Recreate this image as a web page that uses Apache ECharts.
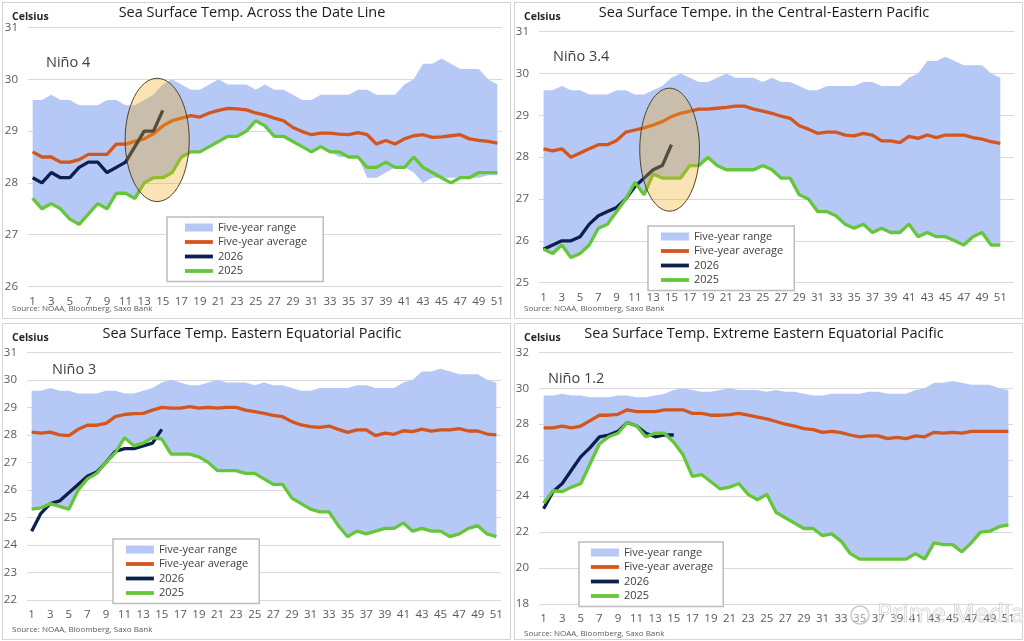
<!DOCTYPE html>
<html><head><meta charset="utf-8">
<script src="https://cdn.jsdelivr.net/npm/echarts@6/dist/echarts.min.js"></script>
<style>
html,body{margin:0;padding:0;background:#fff;width:1024px;height:641px;overflow:hidden}
.p{position:absolute;box-sizing:border-box;border:1px solid #d4d4d4;background:#fff}
</style></head><body>
<div id="c1" class="p" style="left:2px;top:2px;width:509px;height:317px"></div>
<div id="c2" class="p" style="left:514px;top:2px;width:509px;height:317px"></div>
<div id="c3" class="p" style="left:2px;top:323px;width:509px;height:317px"></div>
<div id="c4" class="p" style="left:514px;top:323px;width:509px;height:317px"></div>
<script>
// ---------- DATA ----------
const weeks51 = ['1','2','3','4','5','6','7','8','9','10','11','12','13','14','15','16','17','18','19','20','21','22','23','24','25','26','27','28','29','30','31','32','33','34','35','36','37','38','39','40','41','42','43','44','45','46','47','48','49','50','51'];
const weeks52 = ['1','2','3','4','5','6','7','8','9','10','11','12','13','14','15','16','17','18','19','20','21','22','23','24','25','26','27','28','29','30','31','32','33','34','35','36','37','38','39','40','41','42','43','44','45','46','47','48','49','50','51','52'];

const legendNames = ['Five-year range','Five-year average','2026','2025'];

// upper edge of the five-year range (same shape in all four panels)
const rangeHigh = [29.6,29.6,29.7,29.6,29.6,29.5,29.5,29.5,29.6,29.6,29.5,29.5,29.6,29.7,29.9,30.0,29.9,29.8,29.8,29.9,30.0,29.9,29.9,29.9,29.8,29.9,29.8,29.8,29.7,29.6,29.6,29.7,29.7,29.7,29.7,29.8,29.8,29.7,29.7,29.7,29.9,30.0,30.3,30.3,30.4,30.3,30.2,30.2,30.2,30.0,29.9];

// Niño 4
const nino4Low = [27.7,27.5,27.6,27.5,27.3,27.2,27.4,27.6,27.5,27.8,27.8,27.7,28.0,28.1,28.1,28.2,28.5,28.6,28.6,28.7,28.8,28.9,28.9,29.0,29.2,29.1,28.9,28.9,28.8,28.7,28.6,28.7,28.6,28.5,28.5,28.5,28.1,28.1,28.2,28.3,28.3,28.2,28.0,28.1,28.1,28.1,28.1,28.1,28.1,28.15,28.15];
const nino4Avg = [28.6,28.5,28.5,28.4,28.4,28.45,28.55,28.55,28.55,28.75,28.75,28.8,28.85,28.95,29.1,29.2,29.25,29.3,29.27,29.35,29.4,29.44,29.43,29.41,29.35,29.31,29.25,29.2,29.07,28.99,28.93,28.96,28.96,28.94,28.93,28.97,28.93,28.75,28.82,28.75,28.85,28.91,28.93,28.88,28.89,28.91,28.93,28.85,28.82,28.8,28.77];
const nino4Y2026 = [28.1,28.0,28.2,28.1,28.1,28.3,28.4,28.4,28.2,28.3,28.4,28.7,29.0,29.0,29.4];
const nino4Y2025 = [27.7,27.5,27.6,27.5,27.3,27.2,27.4,27.6,27.5,27.8,27.8,27.7,28.0,28.1,28.1,28.2,28.5,28.6,28.6,28.7,28.8,28.9,28.9,29.0,29.2,29.1,28.9,28.9,28.8,28.7,28.6,28.7,28.6,28.6,28.5,28.5,28.3,28.3,28.4,28.3,28.3,28.5,28.3,28.2,28.1,28.0,28.1,28.1,28.2,28.2,28.2];

// Niño 3.4
const nino34Avg = [28.2,28.15,28.2,28.0,28.1,28.2,28.3,28.3,28.4,28.6,28.65,28.7,28.77,28.85,28.97,29.05,29.1,29.15,29.15,29.17,29.19,29.22,29.22,29.15,29.1,29.05,28.98,28.93,28.75,28.67,28.57,28.6,28.6,28.53,28.51,28.57,28.53,28.39,28.39,28.35,28.5,28.45,28.53,28.47,28.53,28.53,28.53,28.47,28.43,28.37,28.33];
const nino34Y2026 = [25.8,25.9,26.0,26.0,26.1,26.4,26.6,26.7,26.8,27.0,27.3,27.5,27.7,27.8,28.3];
const nino34Y2025 = [25.8,25.7,25.9,25.6,25.7,25.9,26.3,26.4,26.7,27.0,27.4,27.1,27.6,27.5,27.5,27.5,27.8,27.8,28.0,27.8,27.7,27.7,27.7,27.7,27.8,27.7,27.5,27.5,27.1,27.0,26.7,26.7,26.6,26.4,26.3,26.4,26.2,26.3,26.2,26.2,26.4,26.1,26.2,26.1,26.1,26.0,25.9,26.1,26.2,25.9,25.9];

// Niño 3
const nino3Avg = [28.1,28.06,28.1,28.0,27.97,28.2,28.35,28.35,28.42,28.66,28.74,28.77,28.78,28.9,29.0,28.97,28.97,29.03,28.97,29.0,28.97,29.0,29.0,28.9,28.84,28.78,28.71,28.66,28.48,28.36,28.3,28.27,28.32,28.2,28.09,28.18,28.18,27.97,28.06,28.02,28.15,28.12,28.21,28.14,28.18,28.18,28.23,28.14,28.14,28.03,28.0];
const nino3Y2026 = [24.5,25.15,25.5,25.6,25.9,26.2,26.5,26.65,27.0,27.4,27.5,27.5,27.6,27.7,28.2];
const nino3Y2025 = [25.3,25.35,25.5,25.4,25.3,26.0,26.4,26.6,27.0,27.35,27.9,27.6,27.7,27.9,27.85,27.3,27.3,27.3,27.2,27.0,26.7,26.7,26.7,26.6,26.6,26.4,26.2,26.2,25.7,25.5,25.3,25.2,25.2,24.7,24.3,24.5,24.4,24.5,24.6,24.6,24.8,24.5,24.6,24.5,24.5,24.3,24.4,24.6,24.7,24.4,24.3];

// Niño 1.2
const nino12Avg = [27.8,27.8,27.9,27.8,27.9,28.2,28.5,28.5,28.55,28.8,28.7,28.7,28.7,28.8,28.8,28.8,28.6,28.6,28.5,28.5,28.53,28.6,28.5,28.4,28.3,28.15,28.0,27.9,27.75,27.7,27.55,27.6,27.53,27.4,27.3,27.35,27.35,27.2,27.27,27.2,27.35,27.3,27.55,27.5,27.55,27.5,27.6,27.6,27.6,27.6,27.6];
const nino12Y2026 = [23.3,24.25,24.7,25.45,26.2,26.7,27.3,27.4,27.6,28.1,27.9,27.5,27.3,27.4,27.4];
const nino12Y2025 = [23.6,24.3,24.25,24.5,24.7,25.8,26.9,27.3,27.5,28.1,27.9,27.3,27.5,27.5,27.0,26.3,25.1,25.2,24.8,24.4,24.5,24.7,24.1,23.8,24.1,23.1,22.8,22.5,22.2,22.2,21.8,21.9,21.5,20.8,20.5,20.5,20.5,20.5,20.5,20.5,20.8,20.5,21.4,21.3,21.3,20.9,21.4,22.0,22.05,22.3,22.4];

// ---------- STYLE / LAYOUT ----------
const FONT = '"Open Sans","Noto Sans",sans-serif';
const BLUE = '#b6c8f5', ORANGE = '#d4561f', NAVY = '#0c1f4e', GREEN = '#66c63a';
const SOURCE = 'Source: NOAA, Bloomberg, Saxo Bank';
const LINE_W = 3.3;

const panels = [
  {id:'c1', title:'Sea Surface Temp. Across the Date Line', region:'Niño 4',
   cats:weeks51, high:rangeHigh, low:nino4Low, avg:nino4Avg, a:nino4Y2026, b:nino4Y2025,
   yMin:26, yMax:31, yStep:1,
   grid:{left:25, top:24.5, width:474, height:259},
   legend:{left:164, top:214, padding:[4,16,4,16]},
   regionAt:[43,60], sourceY:306,
   oval:{week:14.4, temp:28.83, rxWeeks:3.45, ryDeg:1.19}},
  {id:'c2', title:'Sea Surface Tempe. in the Central-Eastern Pacific', region:'Niño 3.4',
   cats:weeks52, high:rangeHigh, low:nino34Y2025, avg:nino34Avg, a:nino34Y2026, b:nino34Y2025,
   yMin:25, yMax:31, yStep:1,
   grid:{left:24, top:28.7, width:475, height:251},
   legend:{left:133, top:223, padding:[4,11,4,11]},
   regionAt:[38,54], sourceY:306,
   oval:{week:14.8, temp:28.18, rxWeeks:3.27, ryDeg:1.47}},
  {id:'c3', title:'Sea Surface Temp. Eastern Equatorial Pacific', region:'Niño 3',
   cats:weeks51, high:rangeHigh, low:nino3Y2025, avg:nino3Avg, a:nino3Y2026, b:nino3Y2025,
   yMin:22, yMax:31, yStep:1,
   grid:{left:24, top:28.3, width:474, height:247.7},
   legend:{left:110, top:215, padding:[4,11,4,11]},
   regionAt:[49,46], sourceY:306, oval:null},
  {id:'c4', title:'Sea Surface Temp. Extreme Eastern Equatorial Pacific', region:'Niño 1.2',
   cats:weeks51, high:rangeHigh, low:nino12Y2025, avg:nino12Avg, a:nino12Y2026, b:nino12Y2025,
   yMin:18, yMax:32, yStep:2,
   grid:{left:24, top:28.3, width:474, height:251.7},
   legend:{left:64, top:218, padding:[4,10,4,10]},
   regionAt:[33,55], sourceY:310, oval:null, watermark:true}
];

function txt(text, x, y, size, color, opts){
  opts = opts || {};
  return {type:'text', x:x, y:y, z:50, silent:true,
    style:{text:text, fill:color, fontSize:size, fontFamily:FONT, fontWeight:opts.weight||'normal',
      align:opts.align||'left', verticalAlign:'middle', textAlign:opts.align||'left', textVerticalAlign:'middle',
      stroke:opts.stroke, lineWidth:opts.lineWidth||0}};
}

function build(p){
  const chart = echarts.init(document.getElementById(p.id), null, {renderer:'canvas'});
  const span = p.high.map((h,i)=> Math.round((h - p.low[i])*1000)/1000);
  chart.setOption({
    animation:false,
    textStyle:{fontFamily:FONT},
    grid:Object.assign({containLabel:false, outerBoundsMode:'none'}, p.grid),
    xAxis:{type:'category', data:p.cats, boundaryGap:true,
      axisLine:{show:false}, axisTick:{show:false}, splitLine:{show:false},
      axisLabel:{interval:1, color:'#595959', fontSize:11.5, margin:9, fontFamily:FONT}},
    yAxis:{type:'value', min:p.yMin, max:p.yMax, interval:p.yStep,
      axisLine:{show:false}, axisTick:{show:false},
      axisLabel:{color:'#595959', fontSize:11.5, margin:10, fontFamily:FONT},
      splitLine:{lineStyle:{color:'#d9d9d9', width:1}}},
    legend:{orient:'vertical', left:p.legend.left, top:p.legend.top, padding:p.legend.padding,
      itemGap:1.5, itemWidth:28, itemHeight:8, selectedMode:false,
      borderColor:'#bcbcbc', borderWidth:1.5, backgroundColor:'#fff',
      lineStyle:{width:3.8},
      textStyle:{fontSize:11, color:'#404040', fontFamily:FONT, lineHeight:13},
      data:[
        {name:legendNames[0], icon:'rect', itemStyle:{color:BLUE, opacity:1}},
        {name:legendNames[1], itemStyle:{opacity:0}},
        {name:legendNames[2], itemStyle:{opacity:0}},
        {name:legendNames[3], itemStyle:{opacity:0}}
      ]},
    series:[
      {name:'rangeLow', type:'line', stack:'band', data:p.low, symbol:'none', silent:true,
       lineStyle:{width:0, opacity:0}, z:1},
      {name:legendNames[0], type:'line', stack:'band', data:span, symbol:'none', silent:true,
       lineStyle:{width:0, opacity:0}, itemStyle:{color:BLUE},
       areaStyle:{color:BLUE, opacity:1}, z:1},
      {name:legendNames[1], type:'line', data:p.avg, symbol:'none', silent:true,
       lineStyle:{color:ORANGE, width:LINE_W}, itemStyle:{color:ORANGE}, z:3},
      {name:legendNames[2], type:'line', data:p.a, symbol:'none', silent:true,
       lineStyle:{color:NAVY, width:LINE_W}, itemStyle:{color:NAVY}, z:4},
      {name:legendNames[3], type:'line', data:p.b, symbol:'none', silent:true,
       lineStyle:{color:GREEN, width:LINE_W}, itemStyle:{color:GREEN}, z:5}
    ]
  });

  const g = [
    txt(p.title, 249, 10, 14.5, '#1a1a1a', {align:'center'}),
    txt('Celsius', 9, 14, 10.5, '#262626', {weight:'bold'}),
    txt(p.region, p.regionAt[0], p.regionAt[1], 14.5, '#404040'),
    txt(SOURCE, 9, p.sourceY, 8, '#595959')
  ];
  if (p.oval){
    const x0 = chart.convertToPixel({xAxisIndex:0}, 0);
    const x1 = chart.convertToPixel({xAxisIndex:0}, 1);
    const step = x1 - x0;
    const cx = x0 + (p.oval.week - 1) * step;
    const cy = chart.convertToPixel({yAxisIndex:0}, p.oval.temp);
    const perDeg = chart.convertToPixel({yAxisIndex:0}, p.yMin) - chart.convertToPixel({yAxisIndex:0}, p.yMin + 1);
    g.push({type:'ellipse', z:100, silent:true,
      shape:{cx:cx, cy:cy, rx:p.oval.rxWeeks*step, ry:p.oval.ryDeg*perDeg},
      style:{fill:'rgba(242,172,18,0.32)', stroke:'#4e4226', lineWidth:1}});
  }
  if (p.watermark){
    g.push(txt('Prime Media', 362, 291, 25, 'rgba(255,255,255,0.55)', {stroke:'rgba(150,150,150,0.5)', lineWidth:1}));
    g.push({type:'circle', z:50, silent:true, shape:{cx:345, cy:291, r:9},
      style:{fill:'rgba(255,255,255,0.4)', stroke:'rgba(150,150,150,0.5)', lineWidth:1.5}});
  }
  chart.setOption({graphic:g});
}
panels.forEach(build);
</script>
</body></html>
